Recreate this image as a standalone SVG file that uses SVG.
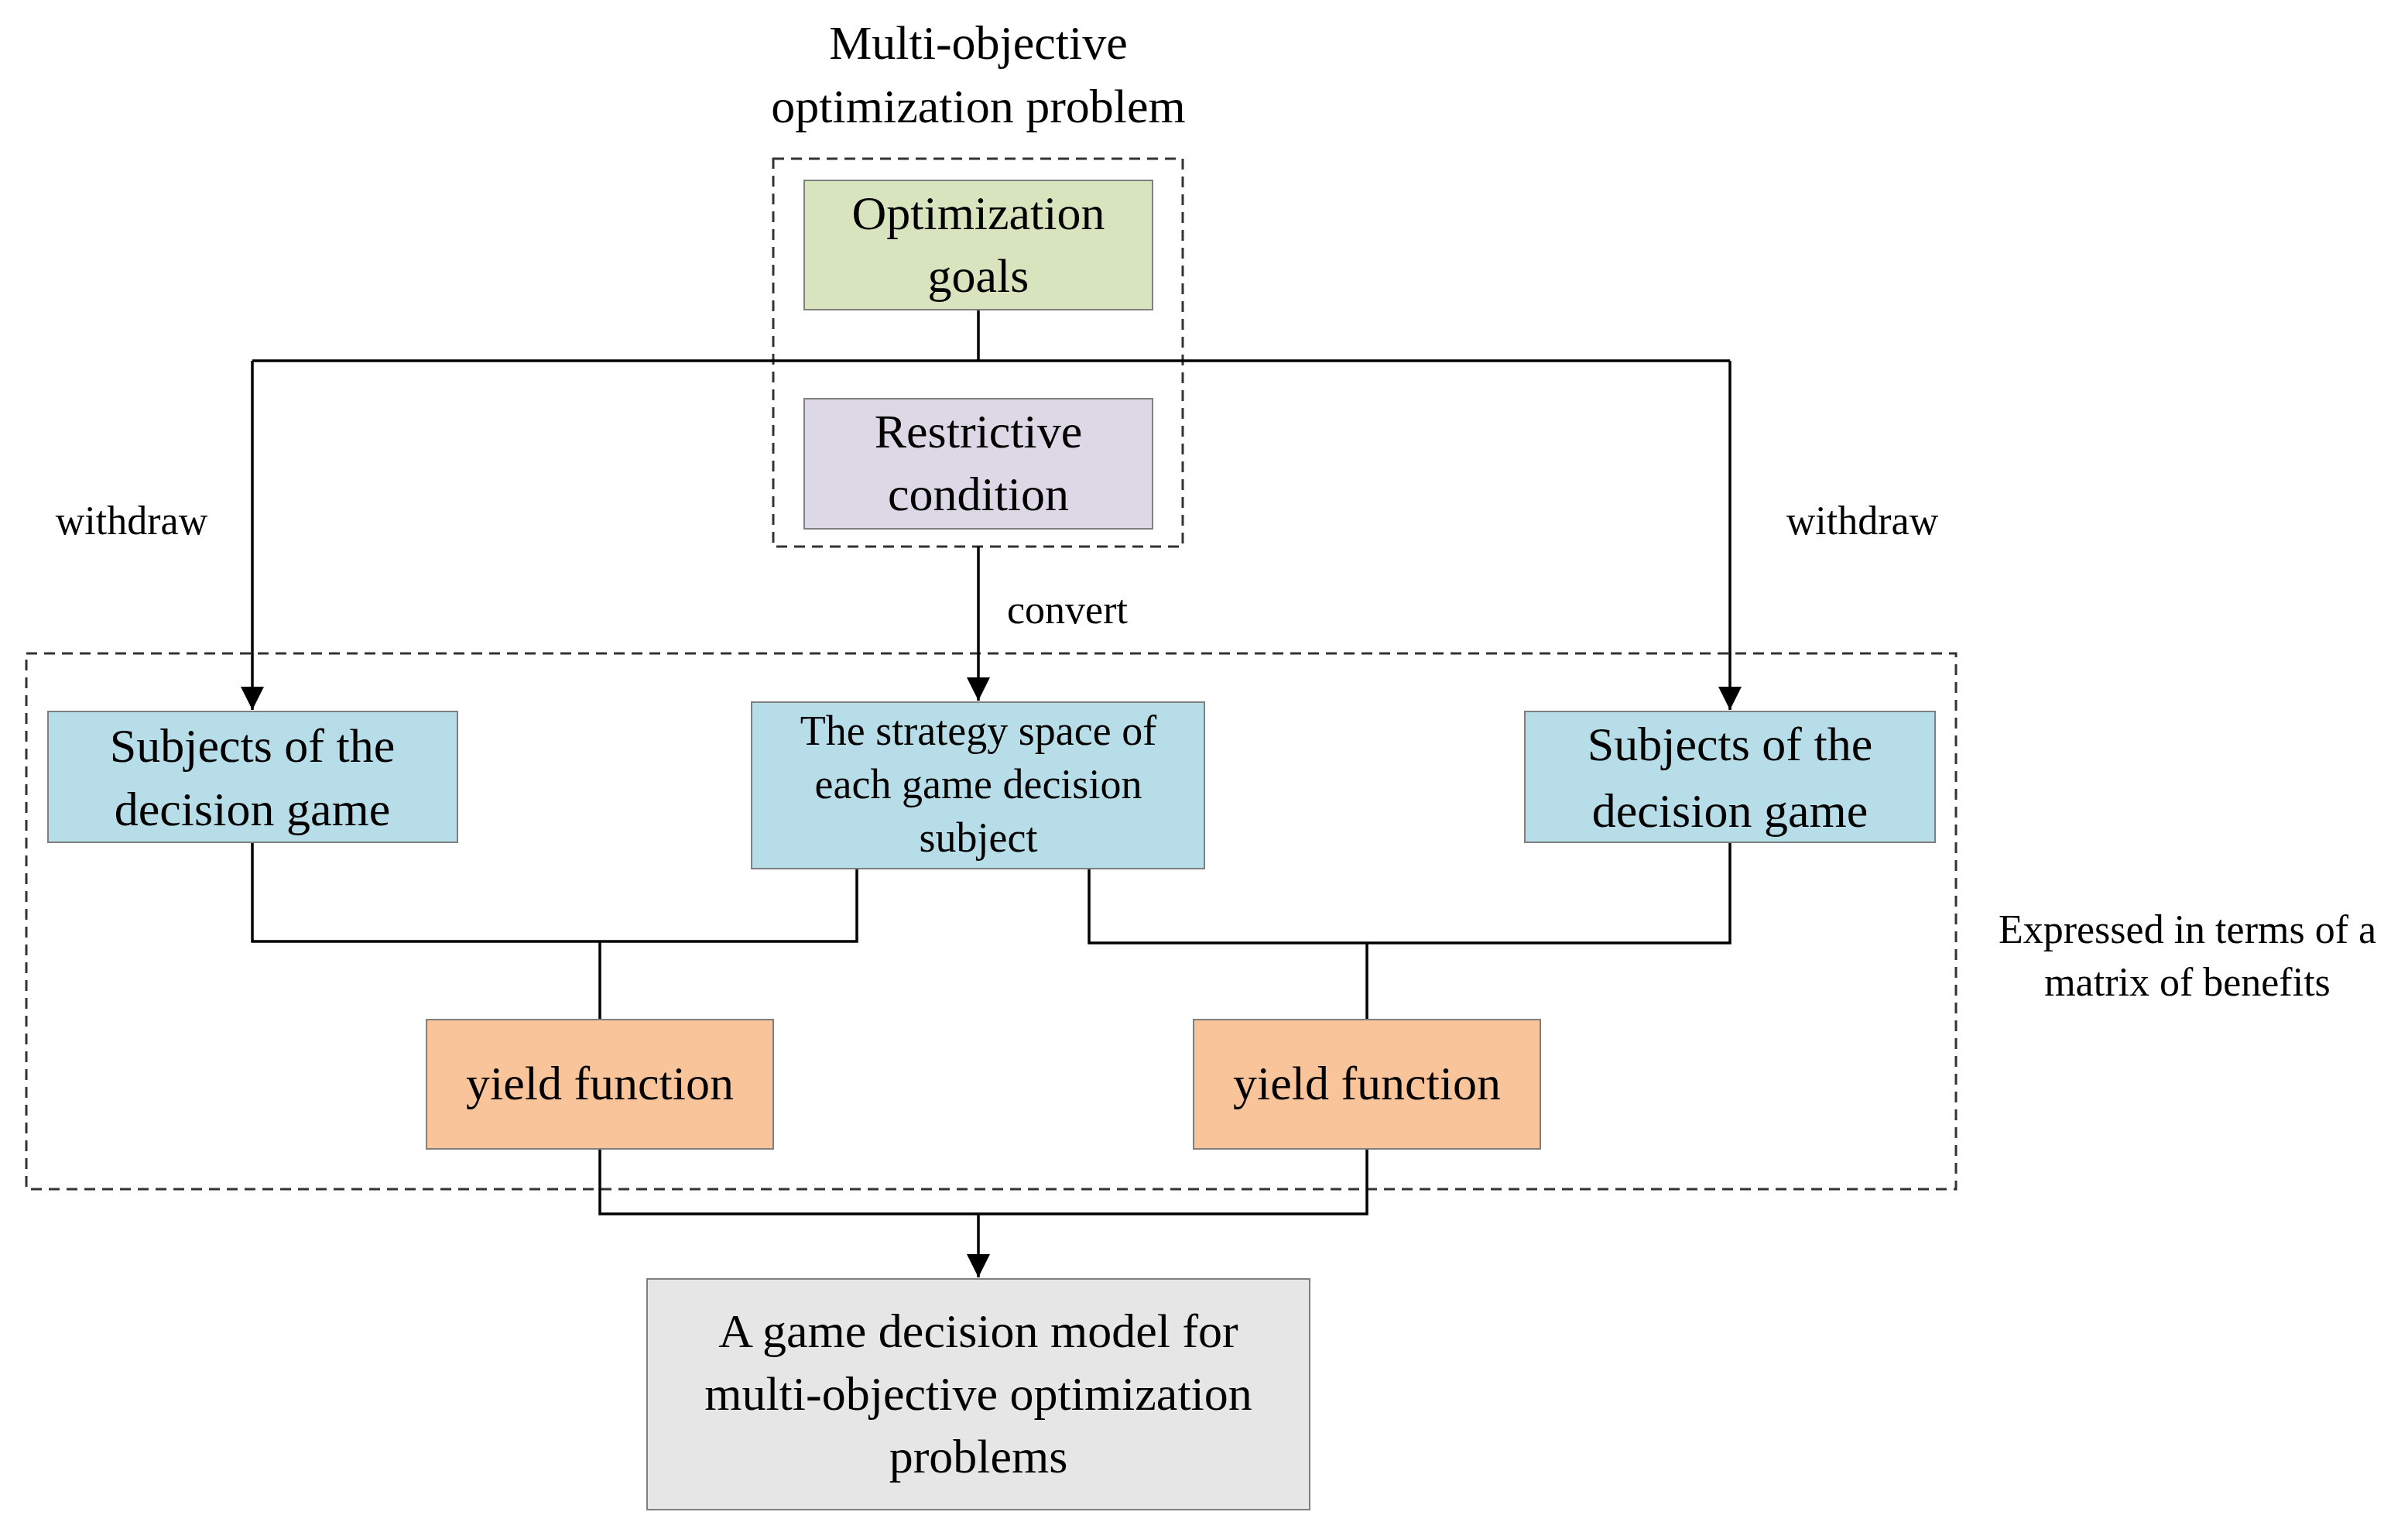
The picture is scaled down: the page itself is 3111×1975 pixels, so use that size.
<svg xmlns="http://www.w3.org/2000/svg" width="3111" height="1975" viewBox="0 0 3111 1975">
<defs>
<marker id="ah" viewBox="0 0 10 10" refX="10" refY="5" markerWidth="30" markerHeight="36" markerUnits="userSpaceOnUse" orient="auto"><path d="M0,0 L10,5 L0,10 z" fill="#000"/></marker>
</defs>
<style>
text{font-family:"Liberation Serif","Times New Roman",serif;fill:#000;text-anchor:middle}
.n{font-size:62px}
.s{font-size:54px}
.l{font-size:52px}
.box{stroke:#7f7f7f;stroke-width:2}
.dash{fill:none;stroke:#333;stroke-width:3;stroke-dasharray:14,9}
.c{fill:none;stroke:#000;stroke-width:3.5}
</style>
<rect width="3111" height="1975" fill="#fff"/>
<g id="title"><text class="n" x="1264" y="76">Multi-objective</text><text class="n" x="1264" y="158">optimization problem</text></g>
<rect class="dash" x="999" y="205" width="529" height="501"/>
<rect class="dash" x="34" y="844" width="2493" height="692"/>
<g id="connectors">
<path class="c" d="M1264,400 V466"/>
<path class="c" d="M326,466 H2235"/>
<path class="c" d="M326,466 V917" marker-end="url(#ah)"/>
<path class="c" d="M2235,466 V917" marker-end="url(#ah)"/>
<path class="c" d="M1264,706 V905" marker-end="url(#ah)"/>
<path class="c" d="M326,1088 V1216 H1107 V1122"/>
<path class="c" d="M775,1216 V1317"/>
<path class="c" d="M1407,1122 V1218 H2235 V1088"/>
<path class="c" d="M1766,1218 V1317"/>
<path class="c" d="M775,1484 V1568 H1766 V1484"/>
<path class="c" d="M1264,1568 V1650" marker-end="url(#ah)"/>
</g>
<g id="goals"><rect class="box" x="1039" y="233" width="450" height="167" fill="#d7e4bd"/><text class="n" x="1264" y="296">Optimization</text><text class="n" x="1264" y="377">goals</text></g>
<g id="restrictive"><rect class="box" x="1039" y="515" width="450" height="168" fill="#dcd8e6"/><text class="n" x="1264" y="578">Restrictive</text><text class="n" x="1264" y="659">condition</text></g>
<g id="subjL"><rect class="box" x="62" y="919" width="529" height="169" fill="#b7dde8"/><text class="n" x="326" y="984">Subjects of the</text><text class="n" x="326" y="1066">decision game</text></g>
<g id="strategy"><rect class="box" x="971" y="907" width="585" height="215" fill="#b7dde8"/><text class="s" x="1264" y="962">The strategy space of</text><text class="s" x="1264" y="1031">each game decision</text><text class="s" x="1264" y="1100">subject</text></g>
<g id="subjR"><rect class="box" x="1970" y="919" width="530" height="169" fill="#b7dde8"/><text class="n" x="2235" y="982">Subjects of the</text><text class="n" x="2235" y="1068">decision game</text></g>
<g id="yieldL"><rect class="box" x="551" y="1317" width="448" height="167" fill="#f9c499"/><text class="n" x="775" y="1420">yield function</text></g>
<g id="yieldR"><rect class="box" x="1542" y="1317" width="448" height="167" fill="#f9c499"/><text class="n" x="1766" y="1420">yield function</text></g>
<g id="model"><rect class="box" x="836" y="1652" width="856" height="298" fill="#e6e6e6"/><text class="n" x="1264" y="1740">A game decision model for</text><text class="n" x="1264" y="1821">multi-objective optimization</text><text class="n" x="1264" y="1902">problems</text></g>
<g id="labels">
<text class="l" x="170" y="690">withdraw</text>
<text class="l" x="2406" y="690">withdraw</text>
<text class="l" x="1379" y="805">convert</text>
<text class="l" x="2826" y="1218">Expressed in terms of a</text>
<text class="l" x="2826" y="1286">matrix of benefits</text>
</g>
</svg>
